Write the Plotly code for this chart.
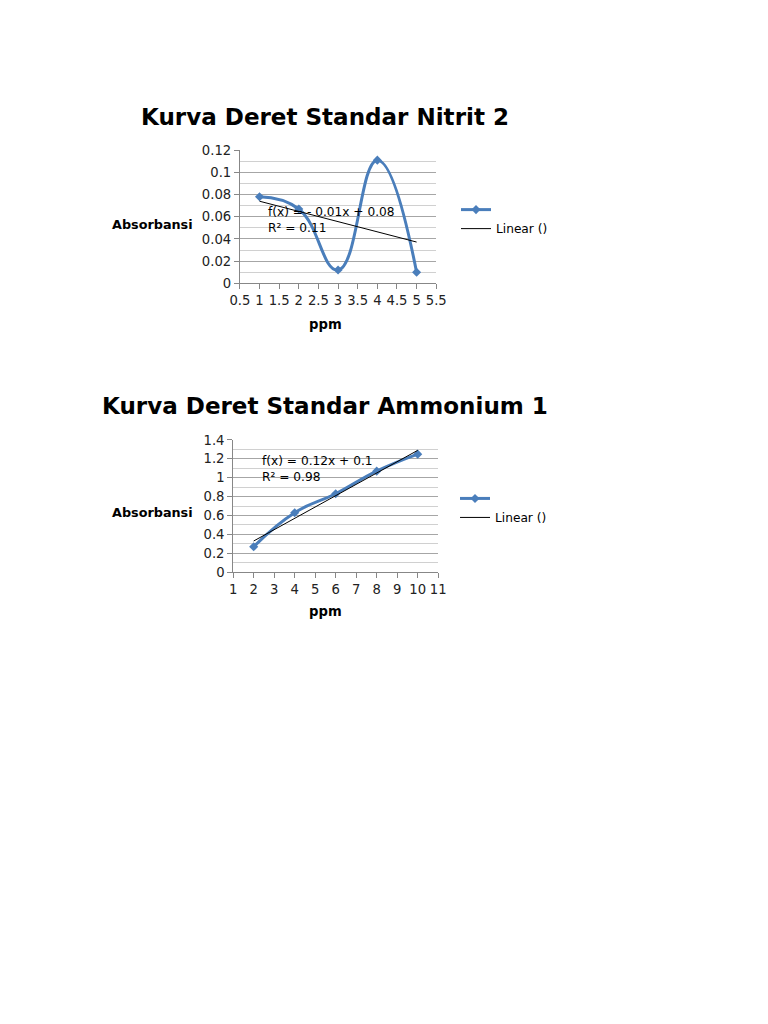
import numpy as np
import plotly.graph_objects as go

# Chart 1: Nitrit
nitrit_ppm = [1, 2, 3, 4, 5]
nitrit_abs = [0.078, 0.067, 0.012, 0.111, 0.010]
# Chart 2: Ammonium
amm_ppm = [2, 4, 6, 8, 10]
amm_abs = [0.27, 0.63, 0.83, 1.07, 1.25]

title1 = "Kurva Deret Standar Nitrit 2"
title2 = "Kurva Deret Standar Ammonium 1"
eq1 = ["f(x) = - 0.01x + 0.08", "R² = 0.11"]
eq2 = ["f(x) = 0.12x + 0.1", "R² = 0.98"]

BLUE = "#4a7ebb"
FONT = "DejaVu Sans"
S, B = 0.985, 15.0          # observed page scale / offset of the capture
W, H = 752, 960

def lx(p):
    return p / S - B

def px_x(p):
    return lx(p) / W

def px_y(p):
    return 1 - lx(p) / H

def fs(v):
    return v / S

fig = go.Figure()

def add_chart(idx, xs, ys, xaxis_dom, yaxis_dom, xr, xdt, yr, ydt, ymin, legend):
    xa = "x" if idx == 1 else f"x{idx}"
    ya = "y" if idx == 1 else f"y{idx}"
    fig.add_trace(go.Scatter(
        x=xs, y=ys, mode="lines+markers", name=" ",
        line=dict(color=BLUE, width=3, shape="spline", smoothing=1.3),
        marker=dict(symbol="diamond", size=7, color=BLUE),
        xaxis=xa, yaxis=ya, legend=legend, showlegend=True))
    coef = np.polyfit(xs, ys, 1)
    tx = [min(xs), max(xs)]
    ty = [coef[0] * t + coef[1] for t in tx]
    fig.add_trace(go.Scatter(
        x=tx, y=ty, mode="lines", name="Linear ()",
        line=dict(color="black", width=1),
        xaxis=xa, yaxis=ya, legend=legend, showlegend=True))
    axkey_x = "xaxis" if idx == 1 else f"xaxis{idx}"
    axkey_y = "yaxis" if idx == 1 else f"yaxis{idx}"
    fig.update_layout(**{
        axkey_x: dict(domain=xaxis_dom, range=xr, dtick=xdt, tick0=xr[0],
                      anchor=ya, showgrid=False, zeroline=False,
                      showline=True, linecolor="#878787", linewidth=1,
                      ticks="outside", ticklen=5, tickcolor="#878787",
                      tickfont=dict(family=FONT, size=fs(13), color="#222")),
        axkey_y: dict(domain=yaxis_dom, range=yr, dtick=ydt, tick0=0,
                      anchor=xa, showgrid=True, gridcolor="#a6a6a6",
                      gridwidth=1, zeroline=False,
                      showline=True, linecolor="#878787", linewidth=1,
                      ticks="outside", ticklen=5, tickcolor="#878787",
                      tickfont=dict(family=FONT, size=fs(13), color="#222"),
                      minor=dict(dtick=ymin, showgrid=True, gridcolor="#d0d0d0",
                                 gridwidth=1, ticks="")),
    })

add_chart(1, nitrit_ppm, nitrit_abs,
          [px_x(239.3), px_x(438)], [px_y(283.3), px_y(150)],
          [0.5, 5.5], 0.5, [0, 0.12], 0.02, 0.01, "legend")
add_chart(2, amm_ppm, amm_abs,
          [px_x(232.5), px_x(440)], [px_y(572.3), px_y(440)],
          [1, 11], 1, [0, 1.4], 0.2, 0.1, "legend2")

annots = []
def ann(text, x, y, size=12, bold=False, xanchor="left"):
    annots.append(dict(text=f"<b>{text}</b>" if bold else text,
                       x=px_x(x), y=px_y(y), xref="paper", yref="paper",
                       showarrow=False, xanchor=xanchor, yanchor="middle",
                       font=dict(family=FONT, size=fs(size), color="black")))

ann(title1, 325, 117, size=22.7, bold=True, xanchor="center")
ann(title2, 325, 406, size=22.7, bold=True, xanchor="center")
ann("Absorbansi", 108, 224, size=12.6, bold=True)
ann("Absorbansi", 108, 513, size=12.6, bold=True)
ann("ppm", 326, 324, size=13, bold=True, xanchor="center")
ann("ppm", 326, 612, size=13, bold=True, xanchor="center")
ann(eq1[0], 266, 212, size=12)
ann(eq1[1], 266, 228, size=12)
ann(eq2[0], 260, 461, size=12)
ann(eq2[1], 260, 477, size=12)

leg_common = dict(font=dict(family=FONT, size=fs(12), color="black"),
                  bgcolor="rgba(0,0,0,0)", xanchor="left", yanchor="top",
                  tracegroupgap=0, itemwidth=30)
fig.update_layout(
    width=W, height=H, margin=dict(l=0, r=0, t=0, b=0),
    paper_bgcolor="white", plot_bgcolor="white",
    annotations=annots,
    legend=dict(x=px_x(458), y=px_y(195), **leg_common),
    legend2=dict(x=px_x(457), y=px_y(484), **leg_common),
)

fig.write_html("out.html")
